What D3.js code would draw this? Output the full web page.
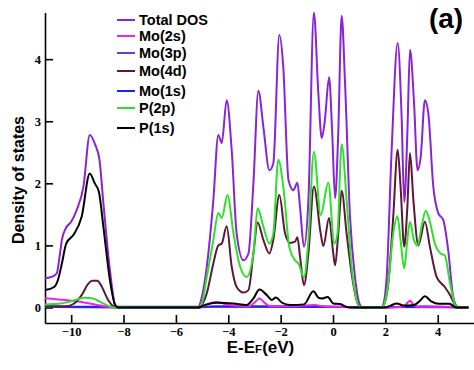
<!DOCTYPE html>
<html>
<head>
<meta charset="utf-8">
<script src="https://cdn.jsdelivr.net/npm/d3@7"></script>
<style>
  body { margin: 0; background: #fff; }
  svg { display: block; }
  .axis path, .axis line { stroke: #000; stroke-width: 1.6; }
  .axis text { font-family: "Liberation Serif", "Times New Roman", serif; font-weight: bold; font-size: 12.5px; fill: #000; }
  .curve { fill: none; stroke-width: 2; stroke-linejoin: round; }
</style>
</head>
<body>
<svg id="chart"></svg>
<script>
// energies in eV relative to the Fermi level, DOS in states/eV
const totalDos = [[-11,0.47],[-10.7,0.5],[-10.55,0.55],[-10.45,0.8],[-10.35,1.1],[-10.2,1.28],[-10.0,1.38],[-9.79,1.57],[-9.53,1.95],[-9.29,2.78],[-9.08,2.62],[-8.92,2.38],[-8.77,1.68],[-8.52,0.6],[-8.32,0.04],[-8.2,0],
  [-5.15,0],[-5.05,0.1],[-4.82,0.66],[-4.57,1.73],[-4.38,2.78],[-4.25,2.65],[-4.06,3.34],[-3.87,2.54],[-3.68,1.19],[-3.42,0.76],[-3.23,0.87],[-3.04,2.0],[-2.85,3.49],[-2.66,2.91],[-2.43,2.21],[-2.28,2.32],[-2.05,4.39],[-1.9,3.88],[-1.7,2.05],[-1.51,1.89],[-1.36,2.01],[-1.26,1.62],[-1.11,0.98],[-0.94,1.73],[-0.73,4.75],[-0.56,3.45],[-0.43,2.73],[-0.31,3.02],[-0.15,3.71],[-0.03,2.81],[0.08,1.76],[0.2,2.81],[0.33,4.7],[0.46,3.61],[0.65,1.46],[0.84,0.49],[1.03,0.04],[1.12,0],
  [1.85,0],[1.95,0.1],[2.05,0.49],[2.24,2.54],[2.47,4.26],[2.62,3.08],[2.72,1.7],[2.84,2.81],[2.94,4.15],[3.09,3.34],[3.23,2.21],[3.35,2.43],[3.51,3.34],[3.64,3.13],[3.83,1.95],[4.02,1.52],[4.21,1.41],[4.4,0.92],[4.59,0.17],[4.75,0.01],[4.85,0],[5.17,0]];

const mo2s = [[-11,0.15],[-10.5,0.13],[-10,0.11],[-9.6,0.09],[-9.3,0.065],[-9.0,0.04],[-8.6,0.01],[-8.35,0],
  [-5.1,0],[-4.8,0.05],[-4.5,0.09],[-4.3,0.08],[-4.0,0.04],[-3.7,0.03],[-3.2,0.02],[-3.0,0.08],[-2.81,0.145],[-2.6,0.07],[-2.4,0.02],[-1.5,0.02],[-0.7,0.04],[-0.4,0.02],[0.2,0.01],[1.0,0],
  [2.0,0],[2.7,0.01],[2.85,0.08],[2.94,0.11],[3.05,0.06],[3.2,0.01],[4.7,0.01],[4.9,0],[5.17,0]];

const mo3p = [[-11,0.01],[-8.4,0],[-5.1,0],[-4.5,0.02],[-2.8,0.02],[-0.7,0.02],[1.0,0],[2.0,0],[3.5,0.02],[4.8,0],[5.17,0]];

const mo4d = [[-11,0.02],[-10.2,0.02],[-9.9,0.06],[-9.6,0.2],[-9.35,0.38],[-9.2,0.43],[-9.0,0.43],[-8.85,0.35],[-8.6,0.13],[-8.35,0.01],[-8.2,0],
  [-5.15,0],[-5.0,0.05],[-4.82,0.23],[-4.57,0.71],[-4.38,1.0],[-4.25,1.03],[-4.06,1.31],[-3.87,0.66],[-3.68,0.33],[-3.42,0.24],[-3.23,0.28],[-3.04,0.87],[-2.88,1.37],[-2.66,1.09],[-2.43,0.87],[-2.28,1.09],[-2.05,1.81],[-1.83,1.19],[-1.64,1.04],[-1.45,1.06],[-1.36,1.13],[-1.26,0.82],[-1.11,0.36],[-0.94,0.87],[-0.73,1.95],[-0.47,1.19],[-0.37,0.99],[-0.15,1.44],[0.01,0.87],[0.08,0.68],[0.2,1.19],[0.33,1.88],[0.52,1.19],[0.71,0.55],[0.9,0.12],[1.03,0.01],[1.12,0],
  [1.85,0],[1.95,0.05],[2.11,0.39],[2.3,1.46],[2.47,2.54],[2.58,1.95],[2.72,0.98],[2.84,1.62],[2.94,2.49],[3.07,1.73],[3.26,1.0],[3.51,1.38],[3.7,0.98],[3.96,0.49],[4.27,0.33],[4.47,0.2],[4.66,0.04],[4.75,0],[5.17,0]];

const mo1s = [[-11,0.015],[-8.4,0.01],[-5,0.01],[1,0.008],[5.17,0.005]];

const p2p = [[-11,0.05],[-10.5,0.06],[-10,0.1],[-9.5,0.156],[-9.2,0.15],[-8.9,0.09],[-8.6,0.03],[-8.35,0],
  [-5.15,0],[-5.0,0.08],[-4.82,0.49],[-4.57,1.09],[-4.38,1.52],[-4.25,1.44],[-4.03,1.81],[-3.8,1.19],[-3.55,0.66],[-3.3,0.49],[-3.04,0.87],[-2.88,1.6],[-2.66,1.3],[-2.43,1.03],[-2.28,1.19],[-2.09,2.38],[-1.9,1.95],[-1.67,0.98],[-1.45,0.76],[-1.32,0.71],[-1.11,0.49],[-0.94,1.09],[-0.73,2.51],[-0.47,1.49],[-0.18,2.01],[0.05,1.03],[0.17,1.19],[0.33,2.63],[0.52,1.73],[0.71,0.66],[0.9,0.12],[1.03,0.01],[1.12,0],
  [1.85,0],[1.95,0.05],[2.11,0.39],[2.3,1.19],[2.46,1.47],[2.58,1.09],[2.72,0.63],[2.84,1.09],[2.94,1.38],[3.09,1.09],[3.23,1.0],[3.38,1.3],[3.54,1.56],[3.7,1.38],[3.89,1.03],[4.11,0.87],[4.27,0.84],[4.47,0.39],[4.66,0.04],[4.75,0],[5.17,0]];

const p1s = [[-11,0.28],[-10.65,0.33],[-10.5,0.45],[-10.36,0.7],[-10.19,1.03],[-9.91,1.17],[-9.6,1.46],[-9.29,2.16],[-9.1,2.0],[-8.94,1.86],[-8.77,1.3],[-8.52,0.44],[-8.32,0.04],[-8.2,0],
  [-5.15,0],[-4.95,0.03],[-4.82,0.05],[-4.44,0.075],[-3.8,0.065],[-3.3,0.04],[-3.04,0.145],[-2.81,0.29],[-2.53,0.2],[-2.34,0.12],[-2.18,0.16],[-1.96,0.08],[-1.64,0.04],[-1.11,0.05],[-0.75,0.26],[-0.56,0.16],[-0.43,0.145],[-0.2,0.17],[0.01,0.065],[0.27,0.055],[0.52,0.01],[0.65,0],
  [2.0,0],[2.2,0.03],[2.43,0.065],[2.7,0.03],[3.1,0.04],[3.3,0.1],[3.51,0.18],[3.75,0.1],[4.05,0.06],[4.45,0.06],[4.7,0],[5.17,0]];

const seriesNames = ["Total DOS", "Mo(2s)", "Mo(3p)", "Mo(4d)", "Mo(1s)", "P(2p)", "P(1s)"];
const seriesData = [totalDos, mo2s, mo3p, mo4d, mo1s, p2p, p1s];
const colors = ["#8a22d6", "#f020f0", "#6a3cd2", "#5c1838", "#2222e6", "#2ee02a", "#000000"];
const drawOrder = [0, 2, 4, 1, 3, 5, 6];

const xTicks = [-10, -8, -6, -4, -2, 0, 2, 4];
const yTicks = [0, 1, 2, 3, 4];

const width = 474, height = 370;
const svg = d3.select("#chart")
    .attr("width", width)
    .attr("height", height);

const x = d3.scaleLinear().domain([-11, 5.385]).range([45, 474]);
const y = d3.scaleLinear().domain([-0.25, 4.75]).range([323, 12.6]);

const line = d3.line()
    .x(d => x(d[0]))
    .y(d => y(d[1]))
    .curve(d3.curveMonotoneX);

// axes, ticks point inward
svg.append("g")
    .attr("class", "axis")
    .attr("transform", "translate(0,323)")
    .call(d3.axisBottom(x).tickValues(xTicks).tickFormat(d3.format("d")).tickSize(-8).tickPadding(4).tickSizeOuter(0));

svg.append("g")
    .attr("class", "axis")
    .attr("transform", "translate(45,0)")
    .call(d3.axisLeft(y).tickValues(yTicks).tickFormat(d3.format("d")).tickSize(-8).tickPadding(4).tickSizeOuter(0));

// curves
svg.append("g").selectAll("path")
    .data(drawOrder)
    .enter().append("path")
    .attr("class", "curve")
    .attr("stroke", i => colors[i])
    .attr("d", i => line(seriesData[i]));

// legend
const legendY = [20, 36, 53, 71, 91, 108, 128];
const legend = svg.append("g");
seriesNames.forEach((name, i) => {
    legend.append("line")
        .attr("x1", 117).attr("x2", 135)
        .attr("y1", legendY[i]).attr("y2", legendY[i])
        .attr("stroke", colors[i])
        .attr("stroke-width", 2);
    legend.append("text")
        .attr("x", 139)
        .attr("y", legendY[i])
        .attr("dy", "0.36em")
        .style("font-family", "'Liberation Sans', Arial, sans-serif")
        .style("font-weight", "bold")
        .style("font-size", "14.5px")
        .text(name);
});

// axis titles
const xt = svg.append("text")
    .attr("x", 260.5)
    .attr("y", 353)
    .attr("text-anchor", "middle")
    .style("font-family", "'Liberation Sans', Arial, sans-serif")
    .style("font-weight", "bold")
    .style("font-size", "17px");
xt.append("tspan").text("E-E");
xt.append("tspan").style("font-size", "11.5px").text("F");
xt.append("tspan").text("(eV)");

svg.append("text")
    .attr("transform", "translate(24,180) rotate(-90)")
    .attr("text-anchor", "middle")
    .style("font-family", "'Liberation Sans', Arial, sans-serif")
    .style("font-weight", "bold")
    .style("font-size", "16px")
    .text("Density of states");

svg.append("text")
    .attr("x", 446)
    .attr("y", 28)
    .attr("text-anchor", "middle")
    .style("font-family", "'Liberation Sans', Arial, sans-serif")
    .style("font-weight", "bold")
    .style("font-size", "28px")
    .text("(a)");
</script>
</body>
</html>
